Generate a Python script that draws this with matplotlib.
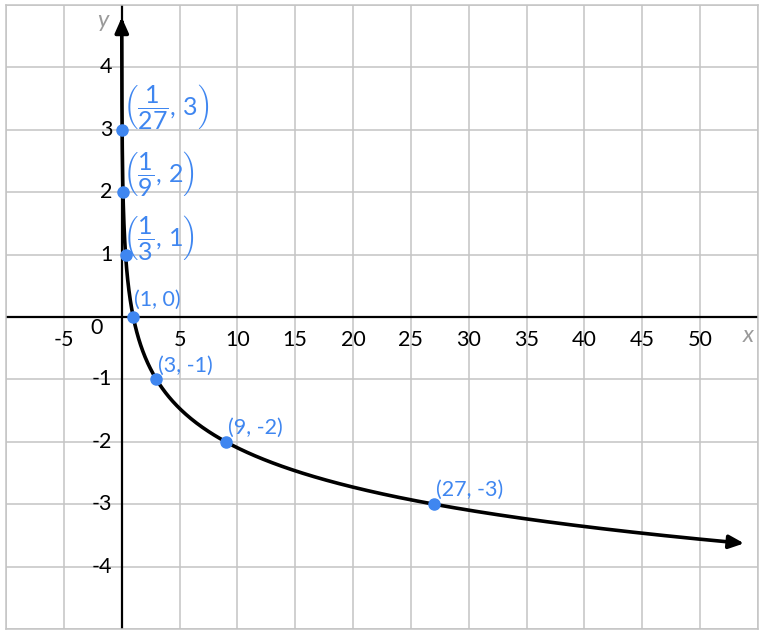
import numpy as np
import matplotlib.pyplot as plt

plt.rcParams["font.family"] = ["Lato", "DejaVu Sans"]
plt.rcParams["mathtext.fontset"] = "custom"
plt.rcParams["mathtext.rm"] = "Lato"
plt.rcParams["mathtext.it"] = "Lato:italic"

BLUE = "#3f86f0"
GRID = "#c4c4c4"

# points on y = log_{1/3}(x)
pt_x = [1 / 27, 1 / 9, 1 / 3, 1, 3, 9, 27]
pt_y = [3, 2, 1, 0, -1, -2, -3]
pt_labels = [r"$\left(\dfrac{1}{27},\,3\right)$", r"$\left(\dfrac{1}{9},\,2\right)$",
             r"$\left(\dfrac{1}{3},\,1\right)$", "(1, 0)", "(3, -1)", "(9, -2)", "(27, -3)"]
lab_x = [0.1, 0.1, 0.1, 1.1, 3.1, 9.2, 27.2]
lab_y = [3.37, 2.3, 1.27, 0.28, -0.78, -1.77, -2.77]
lab_size = [18, 18, 18, 15.5, 15.5, 15.5, 15.5]

xticks = [-5, 5, 10, 15, 20, 25, 30, 35, 40, 45, 50]
yticks = [4, 3, 2, 1, -1, -2, -3, -4]


def main():
    fig = plt.figure(figsize=(7.64, 6.35), dpi=100)
    ax = fig.add_axes([6 / 764, 6 / 635, 752 / 764, 624 / 635])
    ax.set_xlim(-10, 55)
    ax.set_ylim(-5, 5)
    ax.set_xticks(np.arange(-10, 56, 5))
    ax.set_yticks(np.arange(-5, 6, 1))
    ax.grid(True, color=GRID, lw=1.1)
    ax.tick_params(length=0, labelbottom=False, labelleft=False)
    for s in ax.spines.values():
        s.set_color(GRID)
        s.set_linewidth(1.1)

    ax.axhline(0, color="black", lw=1.6, zorder=2)
    ax.axvline(0, color="black", lw=1.6, zorder=2)

    for v in xticks:
        ax.text(v, -0.37, str(v), ha="center", va="center", fontsize=15.5)
    for v in yticks:
        ax.text(-0.8, v, str(v), ha="right", va="center", fontsize=15.5)
    ax.text(-2.2, -0.17, "0", ha="center", va="center", fontsize=15.5)
    ax.text(54.2, -0.3, "x", ha="center", va="center", fontsize=17,
            color="#9a9a9a", style="italic")
    ax.text(-1.6, 4.75, "y", ha="center", va="center", fontsize=17,
            color="#9a9a9a", style="italic")

    # curve
    xs = np.geomspace((1 / 3) ** 4.7, 53, 600)
    ys = np.log(xs) / np.log(1 / 3)
    ax.plot(xs, ys, color="black", lw=2.6, zorder=3)
    arrow = dict(arrowstyle="-|>,head_length=0.9,head_width=0.4", color="black",
                 lw=2.6, shrinkA=0, shrinkB=0)
    top = (1 / 3) ** 4.8
    ax.annotate("", xy=(top, 4.8), xytext=(xs[0], ys[0]), arrowprops=arrow, zorder=3)
    ax.annotate("", xy=(53.8, np.log(53.8) / np.log(1 / 3)), xytext=(xs[-1], ys[-1]),
                arrowprops=arrow, zorder=3)

    ax.plot(pt_x, pt_y, "o", color=BLUE, ms=8, zorder=4)
    for x, y, t, s in zip(lab_x, lab_y, pt_labels, lab_size):
        ax.text(x, y, t, color=BLUE, fontsize=s, ha="left", va="center", zorder=5)

    fig.savefig("out.png", dpi=100)


if __name__ == "__main__":
    main()
